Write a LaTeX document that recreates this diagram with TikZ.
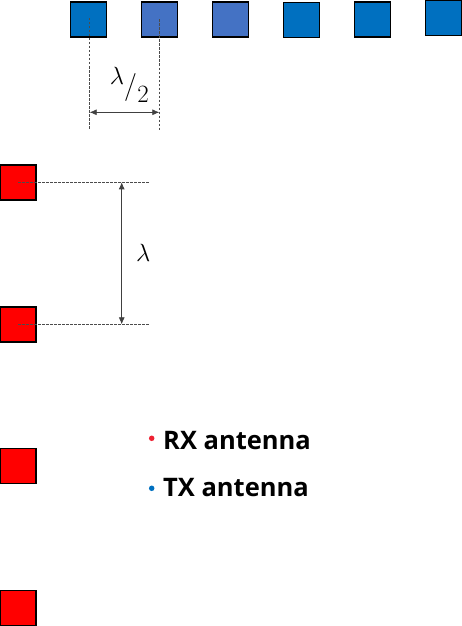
\documentclass[tikz,border=0pt]{standalone}
\usepackage{fontspec}
\setsansfont{Open Sans}
\usetikzlibrary{arrows.meta}
\definecolor{txblue}{HTML}{0070C0}
\definecolor{txlight}{HTML}{4472C4}
\definecolor{rxred}{HTML}{FF0000}
\definecolor{dotred}{HTML}{EE2233}
\begin{document}
\begin{tikzpicture}[x=1pt,y=-1pt]
        \tikzstyle{antenna}=[rectangle,draw=black,line width=1.2pt,minimum width=36pt,minimum height=35pt,inner sep=0pt]
        \tikzstyle{guide}=[draw=black!70,dash pattern=on 2.5pt off 1.5pt,line width=0.6pt]
        \tikzstyle{span}=[draw=black!75,line width=0.7pt,{Latex[length=7pt,width=6pt]}-{Latex[length=7pt,width=6pt]}]
        \tikzstyle{bullet}=[circle,inner sep=0pt,minimum size=5.5pt]
        \tikzstyle{legend}=[font=\sffamily\bfseries\fontsize{25.5}{26}\selectfont,inner sep=0pt]
        \tikzstyle{sym}=[font=\fontsize{25}{25}\selectfont,inner sep=0pt]
       \useasboundingbox (0,0) rectangle (462,626);
       \begin{scope}
         % TX row
         \node [antenna,fill=txblue] (tx1) at (88.3,19.5) {};
         \node [antenna,fill=txlight] (tx2) at (159.3,19.5) {};
         \node [antenna,fill=txlight] (tx3) at (230.3,19.5) {};
         \node [antenna,fill=txblue] (tx4) at (301.3,19.8) {};
         \node [antenna,fill=txblue] (tx5) at (372.3,19.5) {};
         \node [antenna,fill=txblue] (tx6) at (443.5,17.7) {};
         % RX column
         \node [antenna,fill=rxred] (rx1) at (18,182.5) {};
         \node [antenna,fill=rxred] (rx2) at (18,324.5) {};
         \node [antenna,fill=rxred] (rx3) at (18,466) {};
         \node [antenna,fill=rxred] (rx4) at (18,608) {};

         \coordinate (g1) at (89.7,130);
         \coordinate (g2) at (159.3,130);
         \coordinate (h1) at (150,182.3);
         \coordinate (h2) at (150,324.3);
         \path[guide] (89.7,18) -- (g1);
         \path[guide] (tx2.center) -- (g2);
         \path[guide] (18,182.3) -- (h1);
         \path[guide] (18,324.3) -- (h2);

         \coordinate (a1) at (89.7,112.3);
         \coordinate (a2) at (159.3,112.3);
         \coordinate (b1) at (121.7,182.3);
         \coordinate (b2) at (121.7,324.3);
         \path[span] (a1) -- (a2);
         \path[span] (b1) -- (b2);

         \node[sym] (halfnum) at (117,75.5) {$\lambda$};
         \node[sym,font=\fontsize{28}{28}\selectfont] (halfbar) at (130.5,87) {/};
         \node[sym] (halfden) at (143,94) {$2$};
         \node[sym] (lam) at (143.3,253.3) {$\lambda$};

         % legend
         \node [bullet,fill=dotred] (rxdot) at (151.7,438.3) {};
         \node [bullet,fill=txblue] (txdot) at (151.7,488.3) {};
         \node [legend,anchor=base west] (rxlab) at (163,449.3) {RX antenna};
         \node [legend,anchor=base west] (txlab) at (163,496) {TX antenna};
        \end{scope}
      \end{tikzpicture}
\end{document}
